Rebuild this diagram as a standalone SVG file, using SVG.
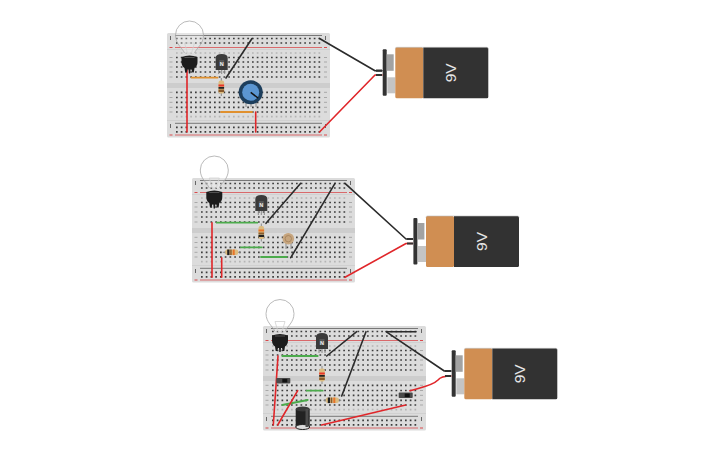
<svg xmlns="http://www.w3.org/2000/svg" width="725" height="453" viewBox="0 0 725 453">
<style>
.ho{fill:none;stroke:#3c3c3c;stroke-width:1.7;stroke-dasharray:1.7 3.05}
.fa{fill:none;stroke:#b4b4b4;stroke-width:1.7;stroke-dasharray:1.7 3.05}
.w{fill:none;stroke-width:1.6;stroke-linecap:round;stroke-linejoin:round}
.k{stroke:#2b2b2b}.r{stroke:#e0262a}.g{stroke:#4cab4c;stroke-width:1.8}.o{stroke:#e0902e;stroke-width:1.8}
.leg{stroke:#8a8a8a;stroke-width:1;fill:none}
.lb{font-family:"Liberation Sans",Arial,sans-serif}
</style>
<defs>
<g id="board">
<rect x="0" y="0" width="163" height="104.500" rx="1.500" fill="#dcdcdc"/>
<rect x="0" y="50" width="163" height="5" fill="#cdcdcd"/>
<rect x="0" y="16" width="163" height="1" fill="#d0d0d0"/>
<rect x="0" y="87" width="163" height="1" fill="#d0d0d0"/>
<path d="M8 2.500H155M8 90.300H155" stroke="#777" stroke-width="1" fill="none"/>
<path d="M8 14.500H155M8 102H155" stroke="#d9696b" stroke-width="1" fill="none"/>
<path class="ho" d="M9 5.500H154M9 10H154M9 94.300H154M9 98.800H154M9 24.500H154M9 29H154M9 34H154M9 39H154M9 44H154M9 59.300H154M9 64.500H154M9 69.300H154M9 74.300H154M9 79H154"/>
<path class="fa" d="M9 20H154M9 83.700H154"/>
<path d="M3.500 3v4M3.500 91v4M158.500 3v4M158.500 91v4" stroke="#666" stroke-width="1" fill="none"/>
<path d="M2.500 14.500h3M2.500 102h3M157 14.500h3M157 102h3" stroke="#d9484b" stroke-width="1" fill="none"/>
<path d="M2.500 24.500h3M2.500 29h3M2.500 34h3M2.500 39h3M2.500 44h3M2.500 59.300h3M2.500 64.500h3M2.500 69.300h3M2.500 74.300h3M2.500 79h3M157 24.500h3M157 29h3M157 34h3M157 39h3M157 44h3M157 59.300h3M157 64.500h3M157 69.300h3M157 74.300h3M157 79h3" stroke="#a8a8a8" stroke-width="1" fill="none"/>
</g>
<g id="bulb">
<path d="M-5 -9 C-7 -14 -14 -18 -14 -27 A14 14 0 1 1 14 -27 C14 -18 7 -14 5 -9" fill="#fff" fill-opacity=".25" stroke="#a8a8a8" stroke-width=".8"/>
<path d="M-5 -19h10l-3 10h-4z" fill="none" stroke="#d0d0d0" stroke-width=".8"/>
<path d="M-8 -5Q0 -8 8 -5V0Q8 4 5 6L4.300 10.500H2.800L2 7.500H1L0.700 11.500H-0.700L-1 7.500H-2L-2.800 10.500H-4.300L-5 6Q-8 4 -8 0Z" fill="#1c1c1c"/>
<path d="M-5 -4.500h10" stroke="#777" stroke-width=".6"/>
</g>
<g id="transistor">
<path class="leg" d="M-3 5v7M0 5v7M3 5v7"/>
<path d="M-6 -4Q-6 -8 0 -8Q6 -8 6 -4V8H-6Z" fill="#3a3a3a"/>
<rect x="-2.500" y="-2" width="5" height="6" fill="#555"/>
<text class="lb" x="0" y="3.500" font-size="5.500" font-weight="bold" fill="#f0f0f0" text-anchor="middle">N</text>
</g>
<g id="res">
<path class="leg" d="M0 -9V9"/>
<rect x="-2.800" y="-6.500" width="5.600" height="13" rx="2" fill="#dcbc80"/>
<rect x="-2.800" y="-2.500" width="5.600" height="2" fill="#e8352a"/>
<rect x="-2.800" y="0" width="5.600" height="1.800" fill="#222"/>
<rect x="-2.800" y="2.500" width="5.600" height="2.500" fill="#8a5a2b"/>
</g>
<g id="res2">
<path class="leg" d="M0 -9V9"/>
<rect x="-2.800" y="-6.500" width="5.600" height="13" rx="2" fill="#dcbc80"/>
<rect x="-2.800" y="-3" width="5.600" height="2" fill="#e8742a"/>
<rect x="-2.800" y="0" width="5.600" height="1.500" fill="#8a5a2b"/>
<rect x="-2.800" y="2.200" width="5.600" height="2.300" fill="#222"/>
</g>
<g id="sw">
<rect x="-7" y="-2.700" width="14" height="5.400" rx=".8" fill="#4a4a4a"/>
<rect x="-1" y="-1.800" width="5" height="3.600" fill="#111"/>
</g>
<g id="bat">
<rect x="-12.600" y="2" width="4" height="46.400" rx="1" fill="#333"/>
<rect x="-8.600" y="7" width="7" height="16.500" fill="#a2a2a2"/>
<rect x="-8" y="30" width="8" height="16" fill="#c4c4c4"/>
<rect x="0" y="0" width="28" height="51" rx="1.500" fill="#d08e52"/>
<path d="M28 0H91.500Q93 0 93 1.500V49.500Q93 51 91.500 51H28Z" fill="#323232"/>
<path d="M0 1.500Q0 0 1.500 0H91.500Q93 0 93 1.500" fill="none" stroke="#bdbdbd" stroke-width=".6"/>
<text class="lb" transform="translate(61 25.500) rotate(-90)" x="0" y="0" font-size="15.500" fill="#e6e6e6" text-anchor="middle">9V</text>
</g>
</defs>

<g id="breadboard-1"><use href="#board" x="167" y="33"/></g>
<g id="breadboard-2"><use href="#board" x="192" y="178"/></g>
<g id="breadboard-3"><use href="#board" x="263" y="326"/></g>

<g id="connectors">
<path class="w k" d="M252 38.500L226 78"/>
<path class="w o" d="M191.500 77.700H217.500M221 112H252"/>
<path class="w r" d="M187 70V132M255.700 112V132"/>
<path class="w k" d="M319.500 38.500L375 70.700H382"/>
<path class="w r" d="M319.500 132L375 75H382"/>

<path class="w k" d="M300.700 183.300L266 223.300M335 183.300L290.700 257.700"/>
<path class="w g" d="M216.700 222.700H257.300M241 247.300H261.700M261 257H286.700"/>
<path class="w r" d="M212 222.700V277.300M221.700 257.700V277.300"/>
<path class="w k" d="M345 183.300L406 239H412.500"/>
<path class="w r" d="M345 277.300L406 243.500H412.500"/>

<path class="w k" d="M356.700 331.700L326.700 356M366 331.700L341.700 396M386.700 331.700L416 331.700"/>
<path class="w g" d="M282.300 356H317.700M282.300 405L307.700 400M306.700 390.700H322.700"/>
<path class="w r" d="M278 356L273.300 425M297.700 390.700L277.700 425M321.700 425L405.700 405"/>
<path class="w k" d="M386 331.700L444.300 371H451"/>
<path class="w r" d="M410 390.700C422 387 432 386 438 380Q441 376 451 376"/>
<path d="M376 70.700h6M376 75h6M407 239h6M407 243.500h6M445 371h6M445 376h6" stroke="#333" stroke-width="2.200" fill="none" stroke-dasharray="6 0"/>
</g>

<g id="bulb-1"><use href="#bulb" x="189.500" y="62"/></g>
<g id="transistor-1"><use href="#transistor" x="221.700" y="62"/></g>
<g id="resistor-1"><use href="#res" x="221.300" y="87"/></g>
<g id="potentiometer-1">
<path class="leg" d="M246 100v7M251 100v7M256 100v7"/>
<circle cx="250.700" cy="92.300" r="12" fill="#1d3e5c"/>
<circle cx="250.700" cy="92.300" r="8.500" fill="#5b96d2"/>
<path d="M250.700 92.300L258 98" stroke="#111" stroke-width="1.500"/>
</g>
<g id="battery-1"><use href="#bat" x="395.300" y="47.300"/></g>

<g id="bulb-2"><use href="#bulb" x="214.300" y="197"/></g>
<g id="transistor-2"><use href="#transistor" x="261.300" y="203"/></g>
<g id="resistor-2"><use href="#res2" x="261.300" y="232.500"/></g>
<g id="resistor-3"><use href="#res2" transform="translate(231.700 252.300) rotate(90)"/></g>
<g id="photoresistor-1">
<path class="leg" d="M286 243v6M291 243v6"/>
<circle cx="288.300" cy="238.700" r="5.800" fill="#c7a67f"/>
<circle cx="288.300" cy="238.700" r="3.200" fill="none" stroke="#a37f58" stroke-width=".8"/>
</g>
<g id="battery-2"><use href="#bat" x="426" y="216"/></g>

<g id="bulb-3"><use href="#bulb" x="280" y="340.500"/></g>
<g id="transistor-3"><use href="#transistor" x="322" y="341"/></g>
<g id="resistor-4"><use href="#res" x="322" y="375"/></g>
<g id="resistor-5"><use href="#res2" transform="translate(332.300 400.300) rotate(90)"/></g>
<g id="switch-1"><use href="#sw" x="283.300" y="380.700"/></g>
<g id="switch-2"><use href="#sw" x="405.700" y="395.300"/></g>
<g id="capacitor-1">
<rect x="295.700" y="409" width="14" height="18" fill="#222"/>
<ellipse cx="302.700" cy="427" rx="7" ry="2.500" fill="#ddd" stroke="#222" stroke-width="1"/>
<ellipse cx="302.700" cy="409" rx="7" ry="2.500" fill="#3a3a3a"/>
<rect x="305.500" y="409" width="3" height="18" fill="#4d4d4d"/>
</g>
<g id="battery-3"><use href="#bat" x="464.300" y="348.300"/></g>
</svg>
